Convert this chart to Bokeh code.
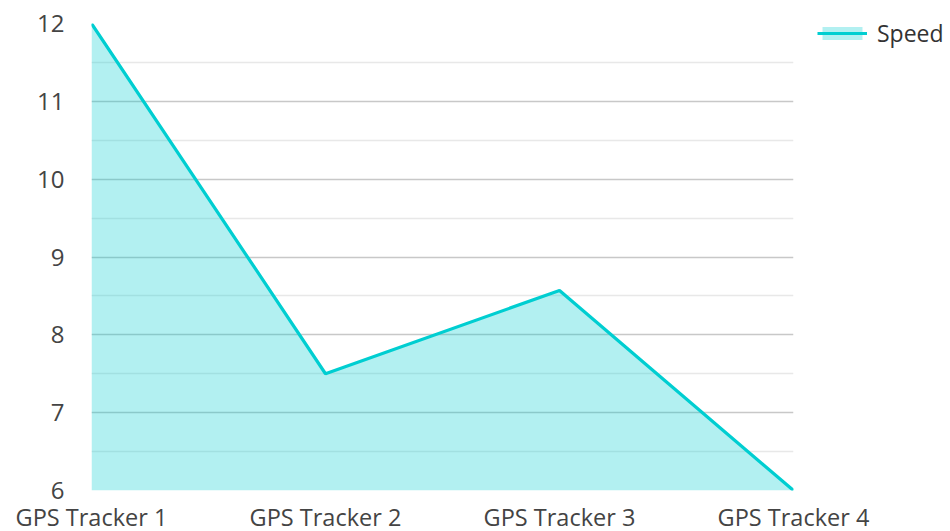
from bokeh.plotting import figure
from bokeh.models import FixedTicker, Legend, LegendItem
from bokeh.embed import file_html
from bokeh.resources import INLINE

categories = ["GPS Tracker 1", "GPS Tracker 2", "GPS Tracker 3", "GPS Tracker 4"]
speed = [12, 7.5, 8.57, 6]
y_ticks = [6, 7, 8, 9, 10, 11, 12]
y_minor = [6.5, 7.5, 8.5, 9.5, 10.5, 11.5]

xs = list(range(len(categories)))
FONT = "Open Sans"

p = figure(frame_width=702, frame_height=467, x_range=(0, 3), y_range=(6, 12),
           output_backend="svg", toolbar_location=None,
           min_border_left=91, min_border_right=157, min_border_top=23, min_border_bottom=41)
p.outline_line_color = None
p.background_fill_color = "white"

area = p.varea(x=xs, y1=6, y2=speed, fill_color="#00CED1", fill_alpha=0.3)
ln = p.line(x=xs, y=speed, line_color="#00CED1", line_width=3.2)

p.xaxis.ticker = FixedTicker(ticks=xs)
p.xaxis.major_label_overrides = {i: c for i, c in enumerate(categories)}
p.yaxis.ticker = FixedTicker(ticks=y_ticks, minor_ticks=y_minor)

for ax in (p.xaxis[0], p.yaxis[0]):
    ax.axis_line_color = None
    ax.major_tick_line_color = None
    ax.minor_tick_line_color = None
    ax.major_tick_out = 0
    ax.minor_tick_out = 0
    ax.major_tick_in = 0
    ax.minor_tick_in = 0
    ax.major_label_text_font = FONT
    ax.major_label_text_color = "#444444"
p.xaxis.major_label_text_font_size = "23.5px"
p.yaxis.major_label_text_font_size = "24px"
p.xaxis.major_label_standoff = 10
p.yaxis.major_label_standoff = 27

p.xgrid.grid_line_color = None
p.ygrid.grid_line_color = "#c8c8c8"
p.ygrid.grid_line_width = 1.5
p.ygrid.minor_grid_line_color = "#e8e8e8"
p.ygrid.minor_grid_line_width = 1.5

legend = Legend(items=[LegendItem(label="Speed", renderers=[area, ln])],
                location=(24, 441), orientation="vertical")
legend.border_line_color = None
legend.background_fill_alpha = 0
legend.margin = 0
legend.padding = 0
legend.glyph_width = 50
legend.glyph_height = 16
legend.label_standoff = 10
legend.label_text_font = FONT
legend.label_text_font_size = "23px"
legend.label_text_color = "#333333"
p.add_layout(legend, "right")

open("out.html", "w").write(file_html(p, INLINE))
